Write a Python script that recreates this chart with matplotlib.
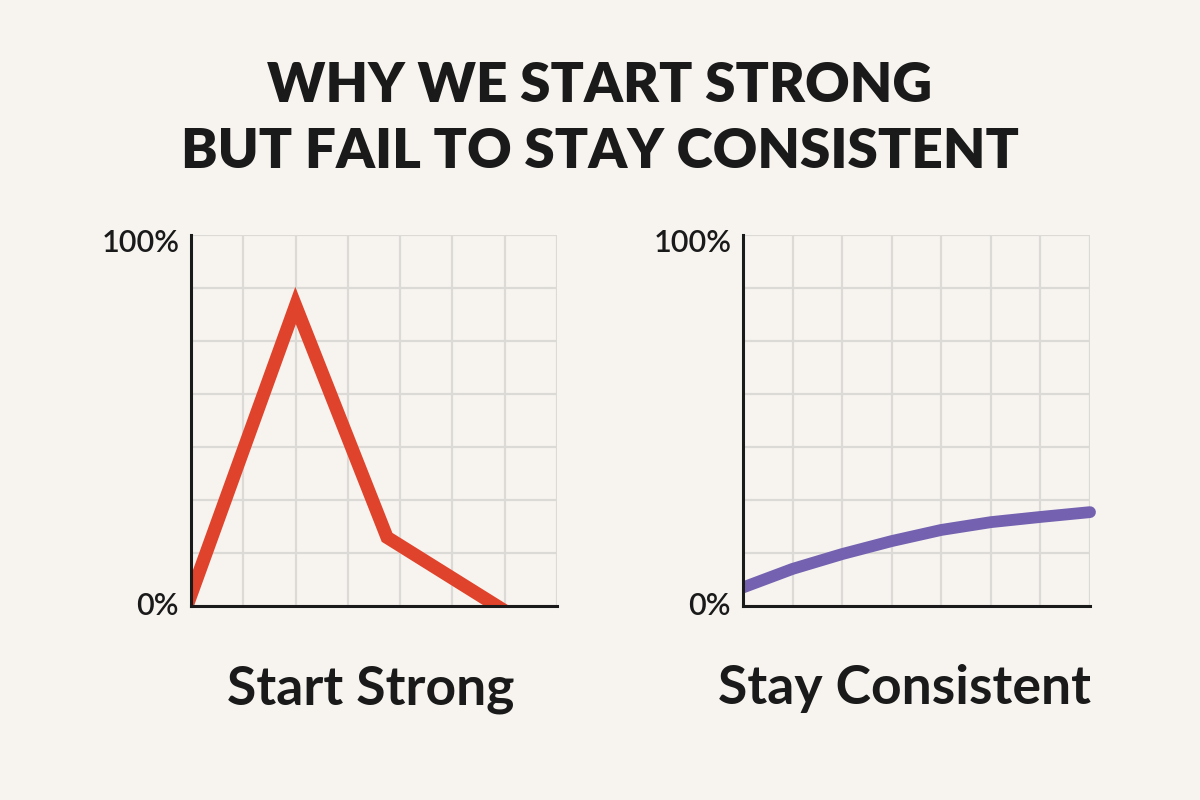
import numpy as np
import matplotlib
matplotlib.use("Agg")
import matplotlib.pyplot as plt
from matplotlib.transforms import Bbox, TransformedBbox

# ---- data ----
title_lines = ["WHY WE START STRONG", "BUT FAIL TO STAY CONSISTENT"]
panel_titles = ["Start Strong", "Stay Consistent"]
y_tick_labels = ["0%", "100%"]

start_x = [-0.1, 2, 3.75, 6.0]
start_y = [-0.9, 81, 18.5, -1.3]

stay_x = [0, 1, 2, 3, 4, 5, 6, 7]
stay_y = [5, 10, 14, 17.5, 20.5, 22.6, 24, 25.3]

# ---- style ----
BG = "#F7F4F0"
GRID = "#DCDAD6"
RED = "#E0432B"
PURPLE = "#7462B0"
INK = "#1A1A1A"
FONT = ["Lato", "DejaVu Sans"]

plt.rcParams["font.family"] = FONT

fig = plt.figure(figsize=(12, 8), dpi=100, facecolor=BG)

axes_rects = [
    [191 / 1200, 1 - 606 / 800, (557 - 191) / 1200, (606 - 235) / 800],
    [743 / 1200, 1 - 606 / 800, (1090 - 743) / 1200, (606 - 235) / 800],
]

def setup(ax):
    ax.set_facecolor(BG)
    ax.set_xlim(0, 7)
    ax.set_ylim(0, 100)
    ax.set_xticks(np.arange(0, 8))
    ax.set_yticks(np.linspace(0, 100, 8))
    ax.grid(True, color=GRID, linewidth=1.6)
    ax.set_axisbelow(True)
    ax.tick_params(length=0, labelleft=False, labelbottom=False)
    for s in ["top", "right"]:
        ax.spines[s].set_visible(False)
    for s in ["left", "bottom"]:
        ax.spines[s].set_color(INK)
        ax.spines[s].set_linewidth(2.2)
        ax.spines[s].set_zorder(5)
    # y labels
    ax.annotate(y_tick_labels[1], xy=(0, 100), xycoords=("axes fraction", "data"),
                xytext=(-8, -6), textcoords="offset points", ha="right", va="center",
                fontsize=22, fontweight="semibold", color=INK)
    ax.annotate(y_tick_labels[0], xy=(0, 0), xycoords=("axes fraction", "data"),
                xytext=(-9, 0), textcoords="offset points", ha="right", va="center",
                fontsize=22, fontweight="semibold", color=INK)

ax1 = fig.add_axes(axes_rects[0])
setup(ax1)
ax1.plot(start_x, start_y, color=RED, linewidth=9.5, solid_joinstyle="miter",
         solid_capstyle="butt", zorder=3)

ax2 = fig.add_axes(axes_rects[1])
setup(ax2)
ln, = ax2.plot(stay_x, stay_y, color=PURPLE, linewidth=8.5, solid_capstyle="round",
               solid_joinstyle="round", zorder=3)
ln.set_clip_box(TransformedBbox(Bbox([[0, 0], [1.04, 1]]), ax2.transAxes))

# titles
fig.text(0.5, 1 - 102 / 800, title_lines[0], ha="center", va="baseline",
         fontsize=39.5, fontweight="heavy", color=INK)
fig.text(0.5, 1 - 168 / 800, title_lines[1], ha="center", va="baseline",
         fontsize=39.5, fontweight="heavy", color=INK)

fig.text(371 / 1200, 1 - 704 / 800, panel_titles[0], ha="center", va="baseline",
         fontsize=38.5, fontweight="bold", color=INK)
fig.text(904 / 1200, 1 - 704 / 800, panel_titles[1], ha="center", va="baseline",
         fontsize=38.5, fontweight="bold", color=INK)

fig.savefig("out.png", dpi=100, facecolor=BG)
